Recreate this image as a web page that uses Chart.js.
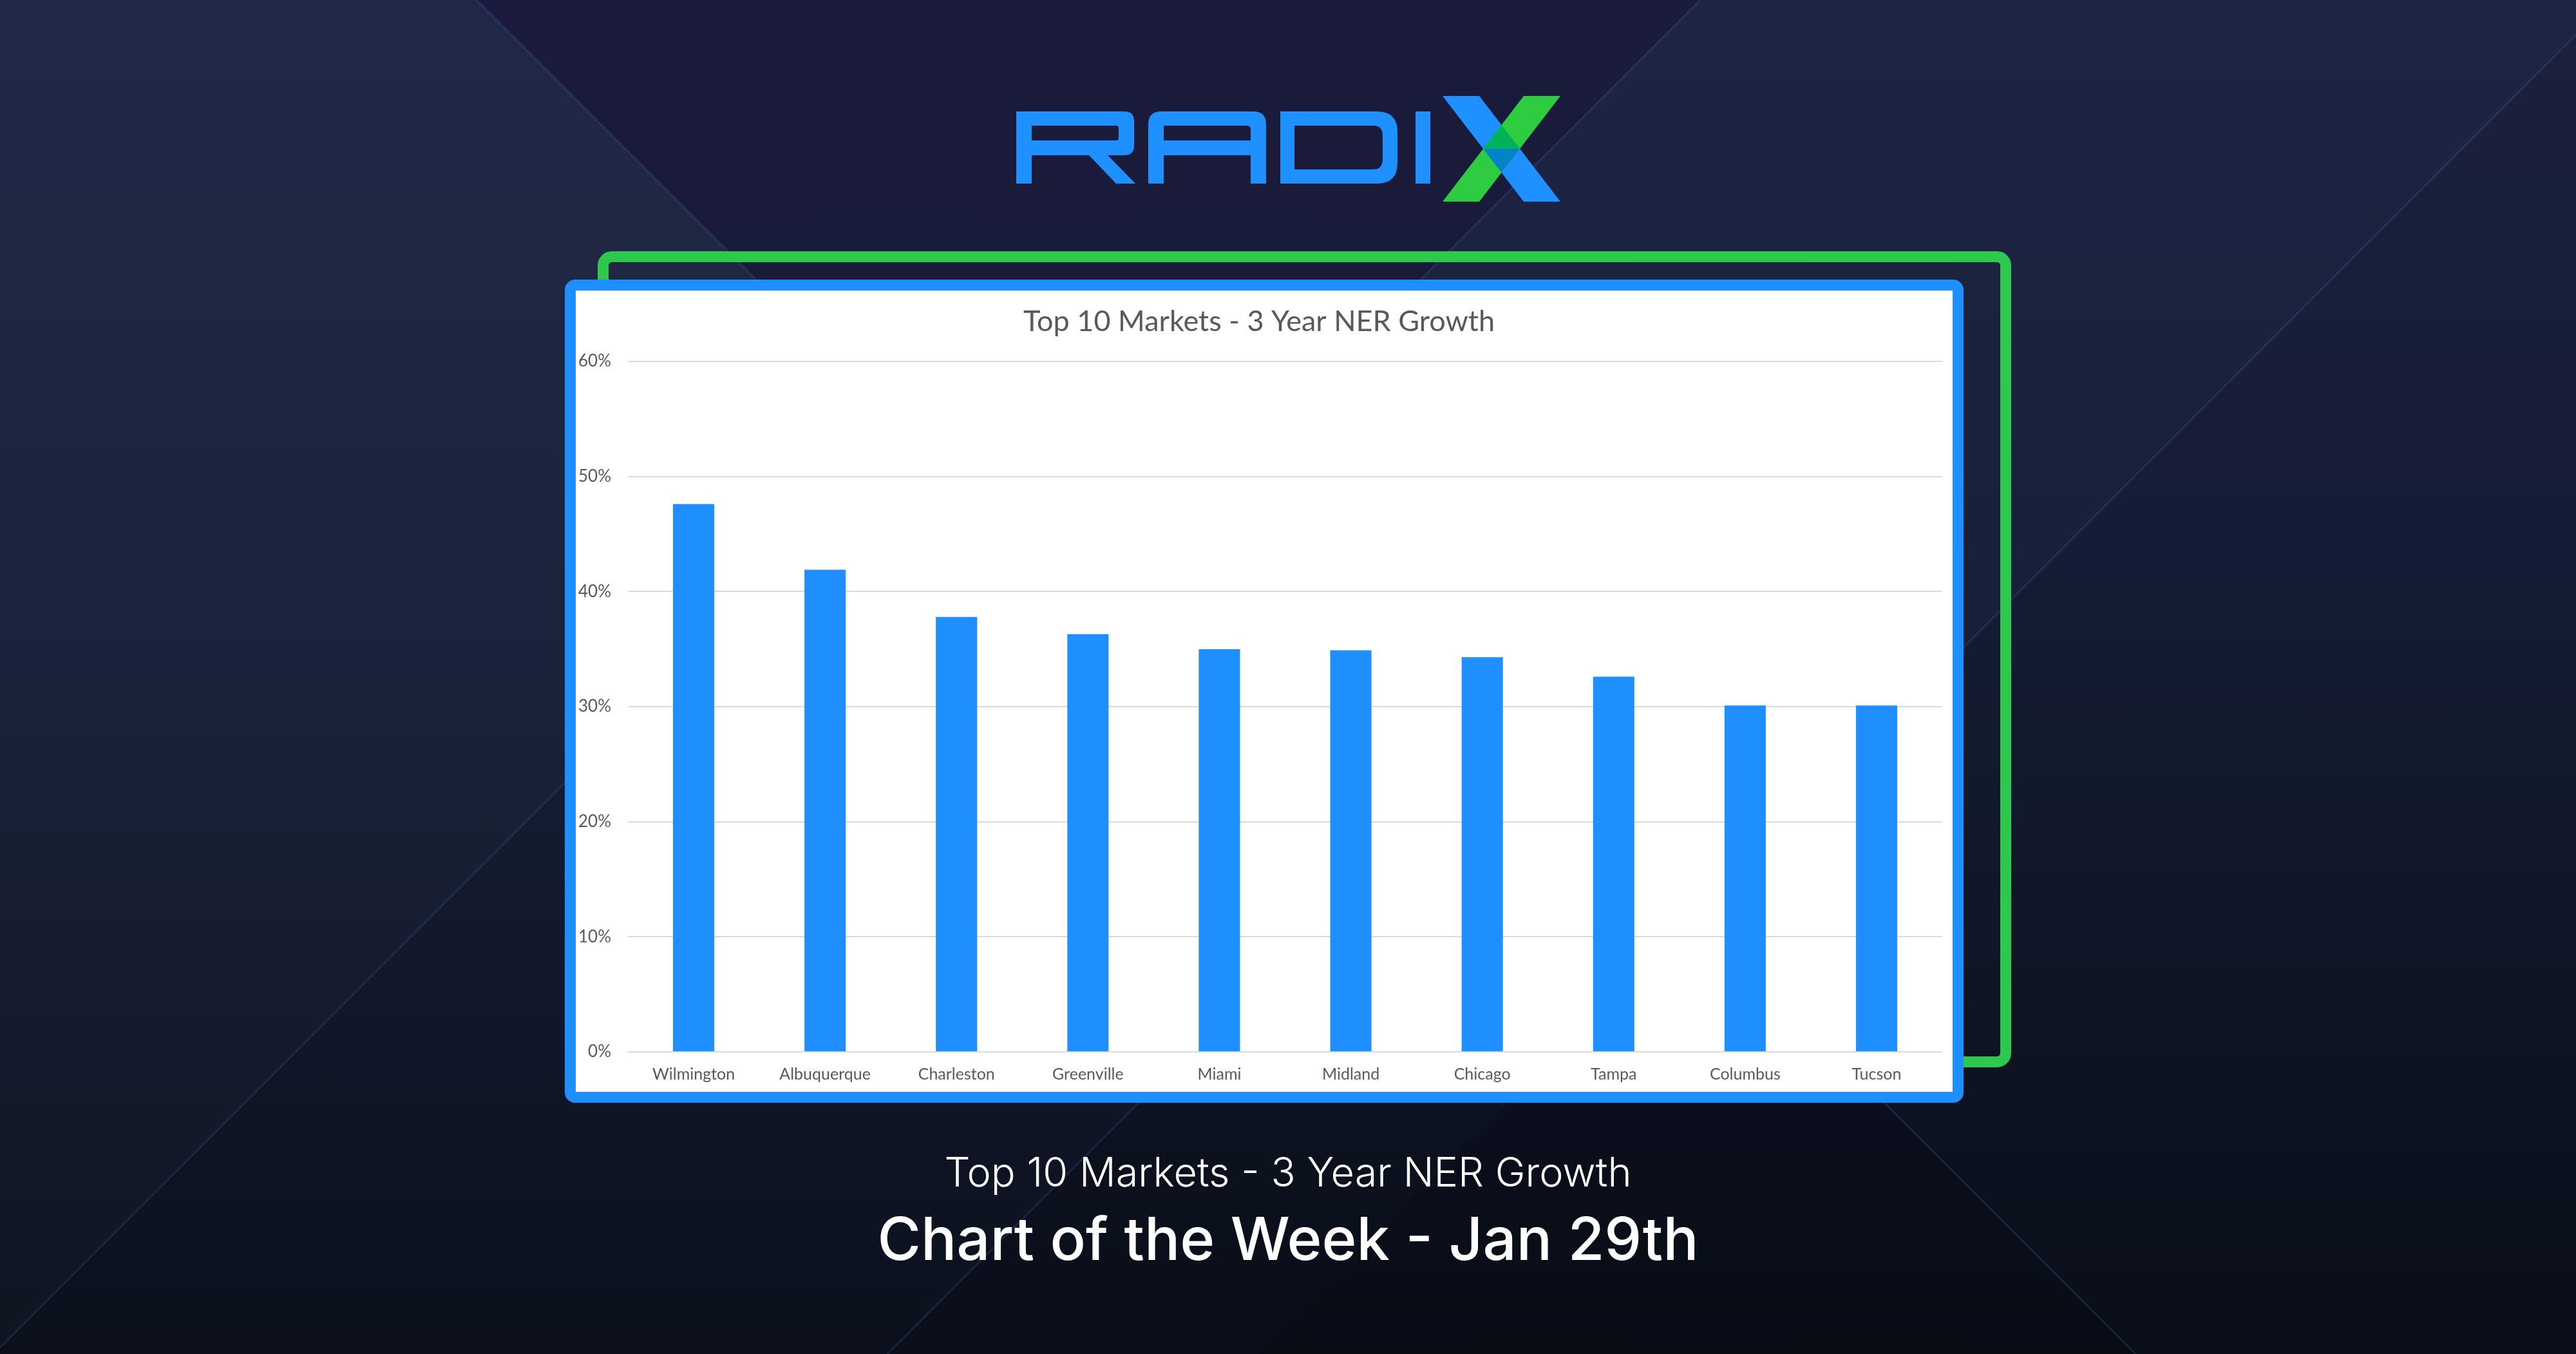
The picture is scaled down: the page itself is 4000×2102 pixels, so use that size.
<!DOCTYPE html>
<html><head><meta charset="utf-8">
<script src="https://cdn.jsdelivr.net/npm/chart.js@4.4.1/dist/chart.umd.min.js"></script>
<style>
html,body{margin:0;padding:0;width:4000px;height:2102px;overflow:hidden;background:#151b33;}
#bg{position:absolute;left:0;top:0;}
#logo{position:absolute;left:0;top:0;}
#green{position:absolute;left:928px;top:390px;width:2195px;height:1267px;box-sizing:border-box;border:17px solid #2dc84d;border-radius:22px;}
#frame{position:absolute;left:877px;top:434px;width:2172px;height:1278px;box-sizing:border-box;border:17px solid #1e8fff;border-radius:16px;background:#fff;}
#wrap{position:absolute;left:894px;top:451px;width:2138px;height:1243px;}
.txt{position:absolute;left:0;width:4000px;text-align:center;color:#fff;font-family:Inter,"Open Sans",sans-serif;white-space:nowrap;line-height:1;}
#sub1{top:1788px;font-size:63px;font-weight:300;}
#sub2{top:1877px;font-size:92px;font-weight:500;}
</style></head>
<body>
<svg id="bg" width="4000" height="2102" viewBox="0 0 4000 2102">
  <defs>
    <linearGradient id="g" x1="0" y1="0" x2="0" y2="1">
      <stop offset="0" stop-color="#1e2545"/>
      <stop offset="0.45" stop-color="#172038"/>
      <stop offset="1" stop-color="#0b101c"/>
    </linearGradient>
  </defs>
  <rect width="4000" height="2102" fill="url(#g)"/>
  <polygon points="0,0 740,0 1416,676 0,2092" fill="rgba(255,255,255,0.018)"/>
  <polygon points="740,0 2640,0 1690,950" fill="rgba(25,18,50,0.45)"/>
  <polygon points="4000,54 4000,2102 1952,2102" fill="rgba(0,0,0,0.10)"/>
  <polygon points="1378,2102 2347,1133 3316,2102" fill="rgba(0,0,0,0.12)"/>
  <g stroke="rgba(70,110,180,0.22)" stroke-width="3" fill="none">
    <line x1="740" y1="0" x2="1416" y2="676"/>
    <line x1="2640" y1="0" x2="1690" y2="950"/>
    <line x1="0" y1="2092" x2="1416" y2="676"/>
    <line x1="4000" y1="54" x2="2950" y2="1104"/>
    <line x1="1378" y1="2102" x2="2347" y2="1133"/>
    <line x1="3316" y1="2102" x2="2347" y2="1133"/>
  </g>
</svg>
<svg id="logo" width="4000" height="400" viewBox="0 0 4000 400" role="img" aria-label="RADIX">
  <title>RADIX</title>
  <g fill="#1e90ff" fill-rule="evenodd">
    <path d="M1578,173 H1746 Q1761,173 1761,188 V226 Q1761,241 1746,241 H1602 V285 H1578 Z M1602,195 H1733 Q1737,195 1737,199 V214 Q1737,218 1733,218 H1602 Z"/>
    <polygon points="1691,241 1720,241 1763,285 1733,285"/>
    <path d="M1783,285 V193 Q1783,173 1803,173 H1946 Q1966,173 1966,193 V285 H1942 V241 H1807 V285 Z M1807,195 H1936 Q1942,195 1942,201 V218 H1807 Z"/>
    <path d="M1988,173 H2138 Q2170,173 2170,205 V253 Q2170,285 2138,285 H1988 Z M2010,195 H2132 Q2147,195 2147,210 V248 Q2147,263 2132,263 H2010 Z"/>
    <rect x="2198" y="173" width="23" height="112"/>
    <polygon points="2240,149 2297,149 2423,313 2366,313"/>
  </g>
  <polygon points="2366,149 2423,149 2297,313 2240,313" fill="#2ecc40"/>
  <polygon points="2331.5,194 2303,231 2360,231" fill="#00b35a"/>
  <polygon points="2303,231 2360,231 2331.5,268" fill="#0384c8"/>
</svg>
<div id="green"></div>
<div id="frame"></div>
<div id="wrap"><canvas id="c"></canvas></div>
<div class="txt" id="sub1">Top 10 Markets - 3 Year NER Growth</div>
<div class="txt" id="sub2">Chart of the Week - Jan 29th</div>
<script>
const categories = ['Wilmington','Albuquerque','Charleston','Greenville','Miami','Midland','Chicago','Tampa','Columbus','Tucson'];
const growthPct = [47.6, 41.9, 37.8, 36.3, 35.0, 34.9, 34.3, 32.6, 30.1, 30.1];
const yTicks = [0, 10, 20, 30, 40, 50, 60];
const chartTitle = 'Top 10 Markets - 3 Year NER Growth';

new Chart(document.getElementById('c'), {
  type: 'bar',
  data: {
    labels: categories,
    datasets: [{
      data: growthPct,
      backgroundColor: '#1f8fff',
      borderWidth: 0,
      barPercentage: 0.314,
      categoryPercentage: 1
    }]
  },
  options: {
    responsive: true,
    maintainAspectRatio: false,
    animation: false,
    devicePixelRatio: 1,
    layout: { padding: { left: 0, right: 16, top: 0, bottom: 0 } },
    plugins: {
      legend: { display: false },
      tooltip: { enabled: false },
      title: {
        display: true,
        text: chartTitle,
        color: '#595959',
        font: { family: 'Lato', size: 45, weight: 'normal' },
        padding: { top: 21, bottom: 35 }
      }
    },
    scales: {
      x: {
        grid: { display: false },
        border: { display: false },
        ticks: { color: '#595959', font: { family: 'Lato', size: 25 }, padding: 12, maxRotation: 0, autoSkip: false },
        afterFit(s) { s.height = 61; }
      },
      y: {
        min: 0, max: 60,
        grid: { color: '#d9d9d9', lineWidth: 2, drawTicks: false },
        border: { display: false },
        afterBuildTicks(s) { s.ticks = yTicks.map(v => ({ value: v })); },
        ticks: { color: '#595959', font: { family: 'Lato', size: 26 }, padding: 26, callback: v => v + '%' },
        afterFit(s) { s.width = 81; }
      }
    }
  }
});
</script>
</body></html>
